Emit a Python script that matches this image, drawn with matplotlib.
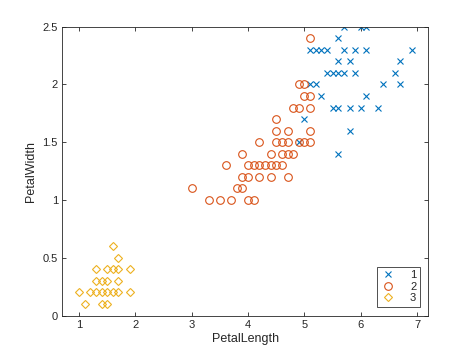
import matplotlib
matplotlib.use("Agg")
import matplotlib.pyplot as plt

plt.rcParams['font.family'] = ['Liberation Sans', 'DejaVu Sans']

# cluster 1 (x markers)
len1 = [5.7, 6.0, 6.1, 5.6, 5.1, 5.2, 5.3, 5.4, 5.7, 5.9, 6.1, 6.9,
        5.6, 5.8, 6.7, 5.4, 5.5, 5.6, 5.7, 5.9, 6.6, 5.1, 5.2, 6.4, 6.7,
        5.3, 6.1, 5.5, 5.6, 5.8, 6.0, 6.3, 5.0, 5.8, 4.9, 5.6]
wid1 = [2.5, 2.5, 2.5, 2.4, 2.3, 2.3, 2.3, 2.3, 2.3, 2.3, 2.3, 2.3,
        2.2, 2.2, 2.2, 2.1, 2.1, 2.1, 2.1, 2.1, 2.1, 2.0, 2.0, 2.0, 2.0,
        1.9, 1.9, 1.8, 1.8, 1.8, 1.8, 1.8, 1.7, 1.6, 1.5, 1.4]

# cluster 2 (circles)
len2 = [5.1, 4.9, 5.0, 5.0, 5.1, 4.8, 4.9, 5.1, 4.5, 4.5, 4.7, 5.1,
        4.2, 4.5, 4.6, 4.7, 4.9, 5.0, 5.1, 3.9, 4.4, 4.6, 4.7, 4.8,
        3.6, 4.0, 4.1, 4.2, 4.3, 4.4, 4.5, 4.6, 3.9, 4.0, 4.2, 4.4, 4.7,
        3.0, 3.8, 3.9, 3.3, 3.5, 3.7, 4.0, 4.1]
wid2 = [2.4, 2.0, 2.0, 1.9, 1.9, 1.8, 1.8, 1.8, 1.7, 1.6, 1.6, 1.6,
        1.5, 1.5, 1.5, 1.5, 1.5, 1.5, 1.5, 1.4, 1.4, 1.4, 1.4, 1.4,
        1.3, 1.3, 1.3, 1.3, 1.3, 1.3, 1.3, 1.3, 1.2, 1.2, 1.2, 1.2, 1.2,
        1.1, 1.1, 1.1, 1.0, 1.0, 1.0, 1.0, 1.0]

# cluster 3 (diamonds)
len3 = [1.6, 1.7, 1.3, 1.5, 1.6, 1.7, 1.9, 1.3, 1.4, 1.5, 1.7,
        1.0, 1.2, 1.3, 1.4, 1.5, 1.6, 1.7, 1.9, 1.1, 1.4, 1.5]
wid3 = [0.6, 0.5, 0.4, 0.4, 0.4, 0.4, 0.4, 0.3, 0.3, 0.3, 0.3,
        0.2, 0.2, 0.2, 0.2, 0.2, 0.2, 0.2, 0.2, 0.1, 0.1, 0.1]

labels = ['1', '2', '3']
colors = ['#0072BD', '#D95319', '#EDB120']
markers = ['x', 'o', 'D']
sizes = [4.5, 5.5, 4.3]

fig = plt.figure(figsize=(4.74, 3.55), dpi=100)
ax = fig.add_axes([0.131, 0.111, 0.773, 0.814])

groups = [(len1, wid1), (len2, wid2), (len3, wid3)]
for (xs, ys), lab, c, m, ms in zip(groups, labels, colors, markers, sizes):
    if m == 'x':
        ax.plot(xs, ys, linestyle='none', marker=m, color=c, markersize=ms,
                markeredgewidth=0.8, label=lab)
    else:
        ax.plot(xs, ys, linestyle='none', marker=m, markerfacecolor='none',
                markeredgecolor=c, markersize=ms,
                markeredgewidth=0.8, label=lab)

ax.set_xlim(0.7, 7.2)
ax.set_ylim(0, 2.5)
ax.set_xticks([1, 2, 3, 4, 5, 6, 7])
ax.set_yticks([0, 0.5, 1, 1.5, 2, 2.5])
ax.set_yticklabels(['0', '0.5', '1', '1.5', '2', '2.5'])

dark = '#262626'
for s in ax.spines.values():
    s.set_color(dark)
    s.set_linewidth(0.6)
ax.tick_params(direction='in', top=True, right=True, length=3, width=0.6,
               colors=dark, labelsize=8, pad=3)
ax.set_xlabel('PetalLength', fontsize=9, color=dark, labelpad=2)
ax.set_ylabel('PetalWidth', fontsize=9, color=dark, labelpad=4)

leg = ax.legend(loc='lower right', fontsize=8, frameon=True, fancybox=False,
                borderaxespad=0.8, handlelength=1.5, handletextpad=1.2,
                labelspacing=0.15, borderpad=0.3, markerscale=1.0)
leg.get_frame().set_edgecolor('black')
leg.get_frame().set_linewidth(0.6)
for t in leg.get_texts():
    t.set_color(dark)

fig.savefig('out.png', dpi=100)
